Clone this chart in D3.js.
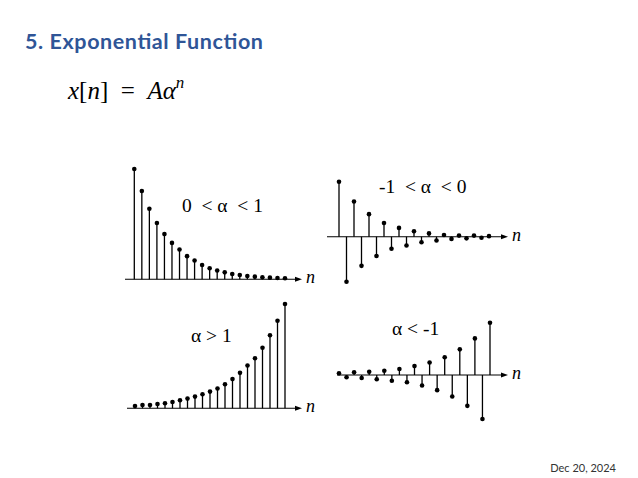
<!DOCTYPE html>
<html>
<head>
<meta charset="utf-8">
<script src="https://cdn.jsdelivr.net/npm/d3@7"></script>
<style>
  html, body { margin: 0; padding: 0; background: #fff; }
  svg { display: block; }
  .lbl { white-space: pre; }
</style>
</head>
<body>
<svg id="chart"></svg>
<script>
// values (amplitude relative to the largest sample)
const nIndex = d3.range(0, 21)
const decay = [1, 0.80, 0.64, 0.51, 0.41, 0.33, 0.27, 0.21, 0.17, 0.13, 0.10, 0.08, 0.063, 0.048, 0.039, 0.030, 0.024, 0.018, 0.015, 0.012, 0.009]
const altDecay = [1, -0.82, 0.64, -0.53, 0.41, -0.35, 0.25, -0.22, 0.16, -0.16, 0.10, -0.10, 0.06, -0.07, 0.03, -0.04, 0.02, -0.03, 0.02, -0.02, 0.01]
const growth = [0.022, 0.032, 0.032, 0.041, 0.048, 0.060, 0.077, 0.093, 0.112, 0.134, 0.16, 0.19, 0.23, 0.28, 0.34, 0.41, 0.48, 0.58, 0.70, 0.84, 1.0]
const altGrowth = [0.032, -0.044, 0.052, -0.057, 0.063, -0.082, 0.082, -0.11, 0.115, -0.14, 0.17, -0.20, 0.24, -0.29, 0.34, -0.41, 0.49, -0.59, 0.70, -0.84, 1.0]
const panelLabels = ['0  < \u03b1  < 1', '-1  < \u03b1  < 0', '\u03b1 > 1', '\u03b1 < -1']

const width = 638, height = 478

const svg = d3.select('#chart')
  .attr('width', width)
  .attr('height', height)

// header
svg.append('text')
  .attr('x', 25).attr('y', 49)
  .attr('font-family', 'Lato, "Open Sans", sans-serif')
  .attr('font-weight', 700)
  .attr('font-size', 21.5)
  .attr('textLength', 238)
  .attr('fill', '#2F5597')
  .text('5. Exponential Function')

const eq = svg.append('text')
  .attr('class', 'lbl')
  .attr('x', 68).attr('y', 99)
  .attr('font-family', '"Liberation Serif", "DejaVu Serif", serif')
  .attr('font-size', 25)
  .attr('fill', '#000')
eq.append('tspan').attr('font-style', 'italic').text('x')
eq.append('tspan').text('[')
eq.append('tspan').attr('font-style', 'italic').text('n')
eq.append('tspan').text(']  =  ')
eq.append('tspan').attr('font-style', 'italic').text('A\u03b1')
eq.append('tspan').attr('font-style', 'italic').attr('font-size', 17).attr('dy', -11).text('n')

svg.append('text')
  .attr('x', 616).attr('y', 472)
  .attr('text-anchor', 'end')
  .attr('font-family', 'Lato, "Open Sans", sans-serif')
  .attr('font-size', 11)
  .attr('fill', '#333')
  .text('Dec 20, 2024')

// panel layout: x of first/last sample, axis y, px per unit amplitude
const panels = [
  { data: decay, label: panelLabels[0], x0: 134.3, x1: 285, axisY: 279.3, amp: 110.3, axisStart: 125, axisEnd: 302, lx: 182, ly: 212 },
  { data: altDecay, label: panelLabels[1], x0: 339, x1: 489, axisY: 236.7, amp: 55, axisStart: 327, axisEnd: 508, lx: 379, ly: 193 },
  { data: growth, label: panelLabels[2], x0: 135, x1: 285, axisY: 408.3, amp: 104.3, axisStart: 127, axisEnd: 302, lx: 191, ly: 342 },
  { data: altGrowth, label: panelLabels[3], x0: 339, x1: 490, axisY: 375, amp: 52.3, axisStart: 337, axisEnd: 508, lx: 392, ly: 335 }
]

panels.forEach(p => {
  const x = d3.scaleLinear().domain([0, 20]).range([p.x0, p.x1])
  const y = d3.scaleLinear().domain([-1, 1]).range([p.axisY + p.amp, p.axisY - p.amp])
  const g = svg.append('g')

  // axis with arrow
  g.append('line')
    .attr('x1', p.axisStart).attr('x2', p.axisEnd - 5)
    .attr('y1', p.axisY).attr('y2', p.axisY)
    .attr('stroke', '#000').attr('stroke-width', 1.1)
  g.append('path')
    .attr('d', `M${p.axisEnd},${p.axisY} L${p.axisEnd - 7},${p.axisY - 2.5} L${p.axisEnd - 7},${p.axisY + 2.5} Z`)
    .attr('fill', '#000')
  g.append('text')
    .attr('x', p.axisEnd + 4).attr('y', p.axisY + 4)
    .attr('font-family', '"Liberation Serif", serif')
    .attr('font-style', 'italic')
    .attr('font-size', 18)
    .attr('fill', '#000')
    .text('n')

  const pts = g.selectAll('.stem')
    .data(p.data)
    .enter()
    .append('g')
    .attr('class', 'stem')

  pts.append('line')
    .attr('x1', (d, i) => x(nIndex[i])).attr('x2', (d, i) => x(nIndex[i]))
    .attr('y1', y(0)).attr('y2', d => y(d))
    .attr('stroke', '#000').attr('stroke-width', 1.3)

  pts.append('circle')
    .attr('cx', (d, i) => x(nIndex[i]))
    .attr('cy', d => y(d))
    .attr('r', 2.3)
    .attr('fill', '#000')

  g.append('text')
    .attr('class', 'lbl')
    .attr('x', p.lx).attr('y', p.ly)
    .attr('font-family', '"Liberation Serif", "Times New Roman", serif')
    .attr('font-size', 19.5)
    .attr('fill', '#000')
    .text(p.label)
})
</script>
</body>
</html>
